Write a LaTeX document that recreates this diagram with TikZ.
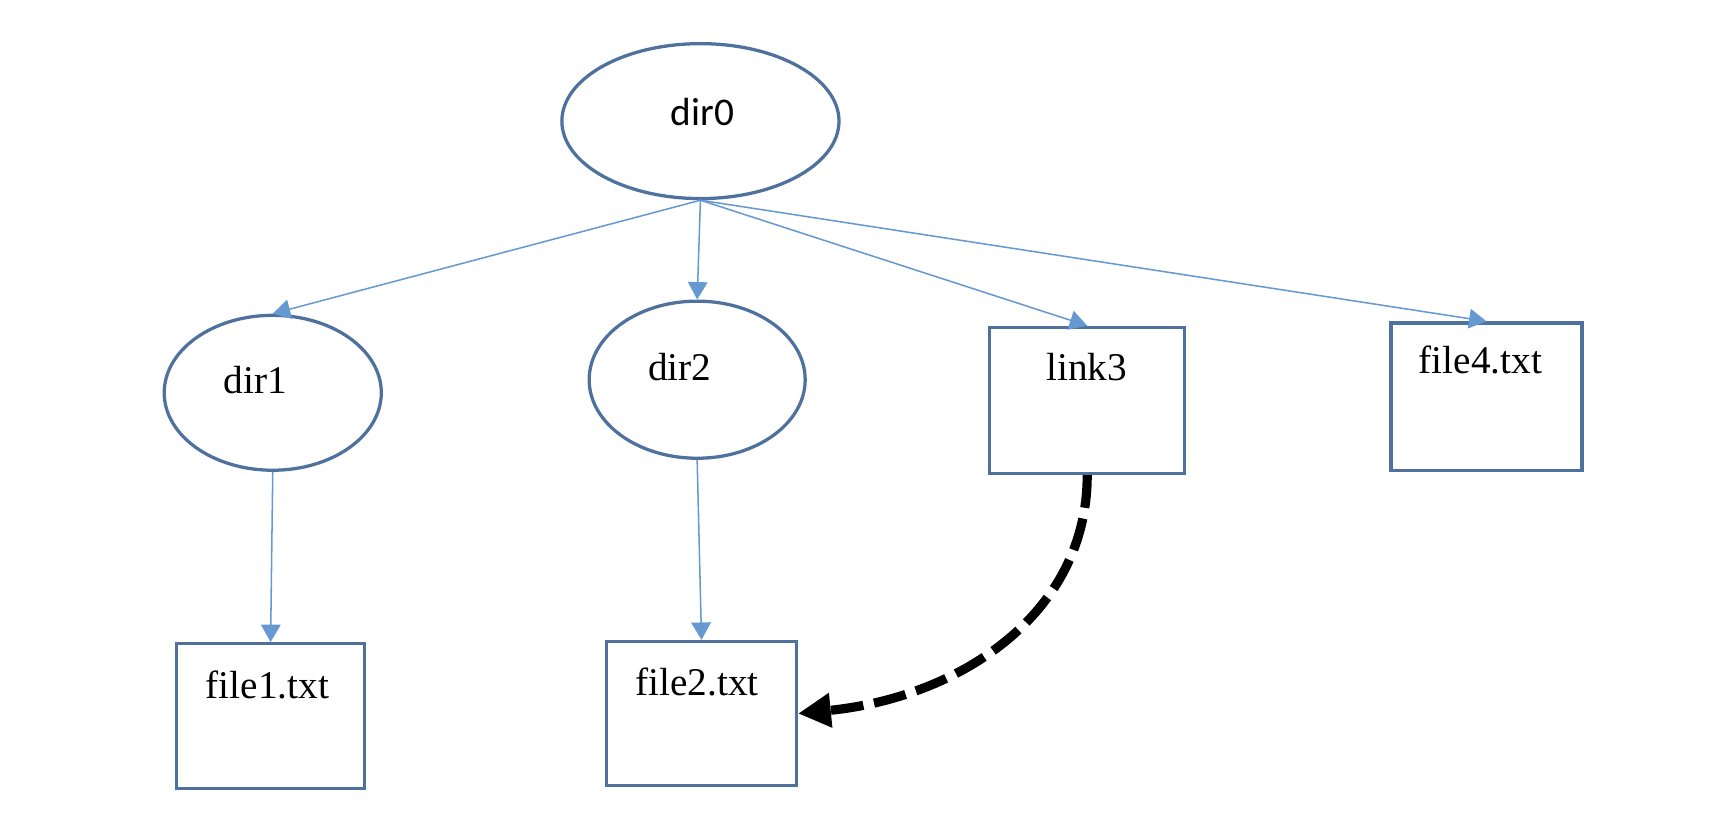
\documentclass[tikz,border=0pt]{standalone}
\usepackage{fontspec}
\setmainfont{Liberation Serif}
\newfontfamily\calibrifont{Carlito}
\usetikzlibrary{shapes.geometric,arrows.meta}
\definecolor{nodeblue}{RGB}{78,113,157}
\definecolor{linkblue}{RGB}{102,153,210}

\begin{document}
\begin{tikzpicture}[x=0.5pt,y=-0.5pt,
  dirnode/.style={ellipse,draw=nodeblue,line width=1.5pt,inner sep=0pt},
  filenode/.style={rectangle,draw=nodeblue,line width=1.5pt,inner sep=0pt},
  txt/.style={inner sep=0pt,font=\fontsize{18}{20}\selectfont},
  treeline/.style={draw=linkblue,line width=0.7pt,-{Triangle[length=8pt,width=9pt]}},
  symlink/.style={line width=4.2pt,dash pattern=on 15pt off 5pt,-{Triangle[length=15pt,width=15pt]}}]
\useasboundingbox (0,0) rectangle (1571,768);
% shapes
\node[dirnode,minimum width=127pt,minimum height=71pt] (dir0) at (642,111) {};
\node[dirnode,minimum width=99.5pt,minimum height=71pt] (dir1) at (250,360) {};
\node[dirnode,minimum width=99pt,minimum height=72pt] (dir2) at (639,348) {};
\node[filenode,minimum width=89.5pt,minimum height=67pt] (link3) at (996.5,367) {};
\node[filenode,minimum width=87.5pt,minimum height=67.5pt] (file4) at (1362.5,363.5) {};
\node[filenode,minimum width=86pt,minimum height=66.5pt] (file1) at (248,656.5) {};
\node[filenode,minimum width=87pt,minimum height=66pt] (file2) at (643,654) {};
% texts
\node[txt,font=\calibrifont\fontsize{18}{20}\selectfont] (dir0txt) at (644,103) {dir0};
\node[txt] (dir1txt) at (234,348) {dir1};
\node[txt] (dir2txt) at (623,336) {dir2};
\node[txt] (link3txt) at (996,336) {link3};
\node[txt] (file4txt) at (1357,330) {file4.txt};
\node[txt] (file1txt) at (245,628) {file1.txt};
\node[txt] (file2txt) at (639,625) {file2.txt};
% tree
\draw[treeline] (dir0.south) -- (dir1.north);
\draw[treeline] (dir0.south) -- (dir2.north);
\draw[treeline] (dir0.south) -- (link3.north);
\draw[treeline] (dir0.south) -- (file4.north);
\draw[treeline] (dir1.south) -- (file1.north);
\draw[treeline] (dir2.south) -- (file2.north);
% link target
\draw[symlink] (link3.south) .. controls +(0,126) and +(150,-15) .. (file2.east);
\end{tikzpicture}
\end{document}
